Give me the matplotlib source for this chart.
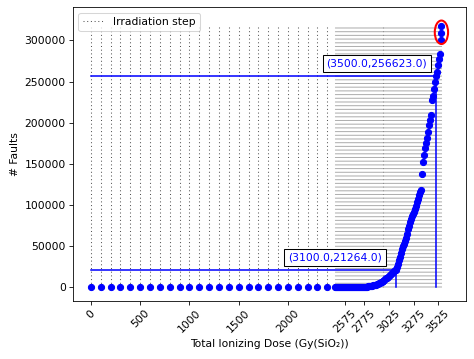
import numpy as np
import matplotlib
matplotlib.use('Agg')
import matplotlib.pyplot as plt
from matplotlib.patches import Ellipse

# ── Data ────────────────────────────────────────────────────────────────────
# coarse irradiation steps (every 100 Gy), no faults seen
dose_low = list(range(0, 2401, 100))
faults_low = [0] * len(dose_low)

# fine irradiation steps (every 10 Gy) from 2480 to 3550
dose_high = list(range(2480, 3551, 10))
faults_high = [
    0, 0, 0, 0, 0, 0, 0, 0, 0, 0,
    0, 0, 0, 0, 0, 10, 20, 40, 60, 90,
    120, 160, 200, 250, 310, 380, 450, 530, 620, 720,
    830, 950, 1100, 1250, 1450, 1650, 1900, 2150, 2450, 2800,
    3150, 3550, 4000, 4500, 5000, 5600, 6200, 6900, 7600, 8400,
    9200, 10100, 11000, 12000, 13100, 14200, 15400, 16600, 17900, 19000,
    20000, 20700, 21264, 25000, 29000, 33000, 37500, 42000, 46500, 50000,
    53000, 56500, 60000, 65500, 70500, 75000, 79000, 83000, 87000, 89500,
    92000, 95000, 99000, 104000, 108000, 112000, 116000, 119000, 138000, 152000,
    161000, 170000, 176000, 182000, 189000, 197000, 203000, 209000, 228000, 232000,
    241000, 250000, 256623, 262000, 270000, 278000, 284000, 301000,
]
# repeated readings at the last step
dose_last = [3550, 3550]
faults_last = [309000, 317000]

marked = [(3100.0, 21264.0), (3500.0, 256623.0)]
label_pos = [(2478, 36600), (2904, 271900)]

xticks = [0, 500, 1000, 1500, 2000, 2575, 2775, 3025, 3275, 3525]

dose = dose_low + dose_high + dose_last
faults = faults_low + faults_high + faults_last
top = max(faults)

plt.rcParams['font.size'] = 10.5

fig, ax = plt.subplots(figsize=(474 / 74, 359 / 74), dpi=74)
fig.subplots_adjust(left=0.154, right=0.983, top=0.980, bottom=0.162)

dots = (0, (1, 2.6))
ax.vlines(dose_low, 0, top, colors='#555555', linestyles=[dots], linewidth=1.0,
          label='Irradiation step')
# fine steps drawn lighter, they pack into a texture
ax.vlines(dose_high, 0, top, colors='#555555', linestyles=[dots], linewidth=1.0,
          alpha=0.45)
ax.plot(dose, faults, 'o', color='blue', markersize=6)

for (mx, my), (tx, ty) in zip(marked, label_pos):
    ax.plot([0, mx], [my, my], color='blue', linewidth=1.5)
    ax.plot([mx, mx], [0, my], color='blue', linewidth=1.5)
    ax.text(tx, ty, f'({mx},{my})', color='blue', fontsize=10.5,
            ha='center', va='center',
            bbox=dict(boxstyle='square,pad=0.35', fc='white', ec='black'))

# highlight the highest readings
ax.add_patch(Ellipse((3558, 310000), 135, 28500, fill=False,
                     edgecolor='red', linewidth=2, zorder=5))

ax.set_xticks(xticks)
ax.set_xticklabels([str(t) for t in xticks], rotation=45)
ax.set_xlabel('Total Ionizing Dose (Gy(SiO\u2082))')
ax.set_ylabel('# Faults')
ax.legend(loc='upper left')

fig.savefig('out.png', dpi=74)
